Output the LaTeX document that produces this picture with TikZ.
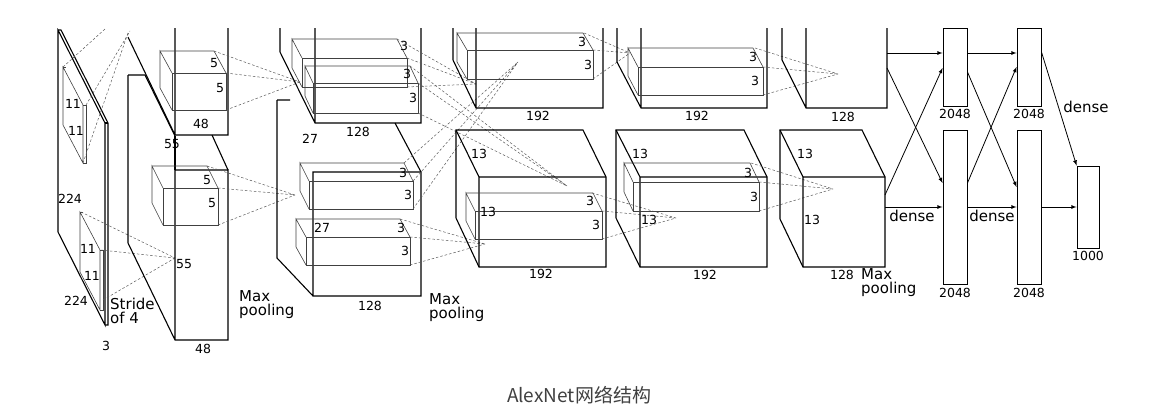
\documentclass[tikz,border=0pt]{standalone}
\usepackage{fontspec}
\setmainfont{DejaVu Sans}
\newfontfamily\cjk{Noto Sans CJK SC}
\begin{document}
\begin{tikzpicture}[x=1pt,y=-1pt,
  blk/.style={line width=1.1pt,black},
  kern/.style={line width=0.6pt,black!75},
  dsh/.style={dashed,dash pattern=on 2.5pt off 2pt,line width=0.5pt,black!65},
  num/.style={font=\fontsize{12.5}{14}\selectfont,inner sep=0pt},
  big/.style={font=\fontsize{15}{17}\selectfont,inner sep=0pt,align=left,anchor=north west},
  arr/.style={-latex,line width=0.8pt}]
\useasboundingbox (0,0) rectangle (1158,415);
\newcommand\kbox[6]{%
  \draw[kern] (#1,#2) rectangle (#3,#4);
  \draw[kern] ({#1-#5},{#2-#6}) -- ({#3-#5},{#2-#6}) -- (#3,#2);
  \draw[kern] (#1,#2) -- ({#1-#5},{#2-#6}) -- ({#1-#5},{#4-#6}) -- (#1,#4);}
% input
\draw[blk] (58,30) -- (105,123) -- (105,325) -- (58,232) -- cycle;
\draw[blk] (58,30) -- (61,30) -- (108,123) -- (108,325) -- (105,325);
\draw[blk] (105,123) -- (108,123);
\draw[kern] (63,67) -- (83,105) -- (83,163) -- (63,125) -- cycle;
\draw[kern] (63,67)--(66,67) (83,105)--(86,105)--(86,163)--(83,163);
\draw[kern] (80,212) -- (100,250) -- (100,310) -- (80,272) -- cycle;
\draw[kern] (80,212)--(83,212) (100,250)--(103,250)--(103,310)--(100,310);
\node[num] (i11a) at (73,104) {11};
\node[num] (i11b) at (76,131) {11};
\node[num] (i224a) at (70,199) {224};
\node[num] (i11c) at (88,249) {11};
\node[num] (i11d) at (92,276) {11};
\node[num] (i224b) at (76,301) {224};
\node[num] (i3) at (106,346) {3};
\node[big] (stride) at (110,298) {Stride\\[-3pt]of 4};
\draw[dsh] (63,67) -- (105,29) (86,105) -- (130,31) (83,163) -- (128,33);
\draw[dsh] (81,212) -- (175,258) (101,250) -- (175,258) (103,300) -- (175,258);
% layer 1
\draw[blk] (128,37) -- (175,135) (175,28) -- (175,135) -- (228,135) -- (228,28);
\draw[blk] (128,75) -- (145,75) -- (175,136);
\draw[blk] (212,135) -- (228,170);
\draw[blk] (128,75) -- (128,243) -- (175,340) -- (228,340) -- (228,170) -- (175,170) -- (175,340);
\draw[blk] (175,170)--(175,136);
\kbox{172}{73}{226}{110}{12}{22}
\kbox{163}{188}{218}{225}{11}{22}
\node[num] (a5a) at (214,63) {5};
\node[num] (a5b) at (220,88) {5};
\node[num] (a5c) at (207,180) {5};
\node[num] (a5d) at (212,203) {5};
\node[num] (a48a) at (201,124) {48};
\node[num] (a48b) at (203,349) {48};
\node[num] (a55a) at (172,144) {55};
\node[num] (a55b) at (184,264) {55};
\draw[dsh] (214,51) -- (300,82) (226,73) -- (300,82) (226,110) -- (300,82);
\draw[dsh] (207,166) -- (295,195) (218,188) -- (295,195) (218,225) -- (295,195);
\node[big] (mp1) at (239,290) {Max\\[-3pt]pooling};
% layer 2
\draw[blk] (280,28) -- (280,52) -- (315,123) -- (421,123) -- (421,28) (315,28) -- (315,123);
\draw[blk] (277,100) -- (290,100) (395,123) -- (421,172);
\draw[blk] (277,100) -- (277,258) -- (313,296) -- (421,296) -- (421,172) -- (313,172) -- (313,296);
\kbox{302}{58}{407}{87}{10}{19}
\kbox{313}{83}{418}{113}{8}{17}
\kbox{309}{181}{413}{209}{9}{18}
\kbox{306}{237}{410}{265}{10}{18}
\node[num] (b3a) at (404,46) {3};
\node[num] (b3b) at (407,74) {3};
\node[num] (b3c) at (413,98) {3};
\node[num] (b3d) at (403,173) {3};
\node[num] (b3e) at (408,195) {3};
\node[num] (b3f) at (401,228) {3};
\node[num] (b3g) at (405,251) {3};
\node[num] (b27a) at (310,139) {27};
\node[num] (b27b) at (322,228) {27};
\node[num] (b128a) at (358,132) {128};
\node[num] (b128b) at (370,306) {128};
\node[big] (mp2) at (429,293) {Max\\[-3pt]pooling};
\draw[dsh] (397,39) -- (476,84) (407,58) -- (476,84) (407,87) -- (476,84);
\draw[dsh] (410,66) -- (567,186) (418,83) -- (567,186) (418,113) -- (567,186);
\draw[dsh] (404,163) -- (518,62) (413,181) -- (518,62) (413,209) -- (518,62);
\draw[dsh] (400,219) -- (485,244) (410,237) -- (485,244) (410,265) -- (485,244);
% layer 3
\draw[blk] (453,28) -- (453,60) -- (476,108) -- (603,108) -- (603,28) (476,28) -- (476,108);
\kbox{467}{50}{593}{79}{10}{17}
\draw[blk] (456,130) -- (583,130) -- (606,177) -- (606,267) -- (479,267) -- (456,218) -- cycle;
\draw[blk] (456,130) -- (479,177) -- (606,177) (479,177) -- (479,267);
\kbox{475}{211}{602}{239}{9}{18}
\node[num] (c3a) at (582,42) {3};
\node[num] (c3b) at (588,65) {3};
\node[num] (c3c) at (590,201) {3};
\node[num] (c3d) at (596,225) {3};
\node[num] (c13a) at (479,154) {13};
\node[num] (c13b) at (488,212) {13};
\node[num] (c192a) at (538,116) {192};
\node[num] (c192b) at (541,274) {192};
\draw[dsh] (584,33) -- (630,53) (593,50) -- (630,53) (593,79) -- (630,53);
\draw[dsh] (592,193) -- (676,218) (602,211) -- (676,218) (602,239) -- (676,218);
% layer 4
\draw[blk] (617,28) -- (617,62) -- (641,108) -- (767,108) -- (767,28) (641,28) -- (641,108);
\kbox{638}{67}{763}{95}{10}{19}
\draw[blk] (616,130) -- (744,130) -- (767,177) -- (767,267) -- (640,267) -- (616,218) -- cycle;
\draw[blk] (616,130) -- (640,177) -- (767,177) (640,177) -- (640,267);
\kbox{633}{182}{759}{211}{9}{19}
\node[num] (d3a) at (753,57) {3};
\node[num] (d3b) at (755,81) {3};
\node[num] (d3c) at (748,173) {3};
\node[num] (d3d) at (754,197) {3};
\node[num] (d13a) at (640,154) {13};
\node[num] (d13b) at (649,220) {13};
\node[num] (d192a) at (697,116) {192};
\node[num] (d192b) at (705,275) {192};
\draw[dsh] (755,48) -- (838,74) (763,67) -- (838,74) (763,95) -- (838,74);
\draw[dsh] (751,163) -- (833,189) (759,182) -- (833,189) (759,211) -- (833,189);
% layer 5
\draw[blk] (782,28) -- (782,60) -- (806,108) -- (887,108) -- (887,28) (806,28) -- (806,108);
\draw[blk] (780,130) -- (862,130) -- (885,177) -- (885,267) -- (803,267) -- (780,219) -- cycle;
\draw[blk] (780,130) -- (803,177) -- (885,177) (803,177) -- (803,267);
\node[num] (e13a) at (805,154) {13};
\node[num] (e13b) at (812,220) {13};
\node[num] (e128a) at (843,117) {128};
\node[num] (e128b) at (842,275) {128};
\node[big] (mp3) at (861,268) {Max\\[-3pt]pooling};
% dense
\node[draw,line width=0.9pt,minimum width=24pt,minimum height=78pt,inner sep=0pt] (f6t) at (955,67) {};
\node[draw,line width=0.9pt,minimum width=24pt,minimum height=154pt,inner sep=0pt] (f6b) at (955,207) {};
\node[draw,line width=0.9pt,minimum width=24pt,minimum height=78pt,inner sep=0pt] (f7t) at (1029,67) {};
\node[draw,line width=0.9pt,minimum width=24pt,minimum height=154pt,inner sep=0pt] (f7b) at (1029,207) {};
\node[draw,line width=0.9pt,minimum width=22pt,minimum height=82pt,inner sep=0pt] (f8) at (1088,207) {};
\fill[white] (930,0) rectangle (1050,28);
\draw[white,line width=2pt] (0,27) -- (1158,27);
\node[num] (g1) at (955,114) {2048};
\node[num] (g2) at (955,293) {2048};
\node[num] (g3) at (1029,114) {2048};
\node[num] (g4) at (1029,293) {2048};
\node[num] (g5) at (1088,256) {1000};
\coordinate (p1) at (887,53); \coordinate (p2) at (887,68);
\coordinate (p3) at (885,195); \coordinate (p4) at (885,207);
\draw[arr] (p1) -- (f6t.west |- p1);
\draw[arr] (p2) -- (f6b.west |- 0,183);
\draw[arr] (p3) -- (f6t.west |- 0,68);
\draw[arr] (p4) -- (f6b.west |- p4);
\draw[arr] (f6t.east |- 0,53) -- (f7t.west |- 0,53);
\draw[arr] (f6t.east |- 0,72) -- (f7b.west |- 0,187);
\draw[arr] (f6b.east |- 0,183) -- (f7t.west |- 0,67);
\draw[arr] (f6b.east |- 0,207) -- (f7b.west |- 0,207);
\draw[arr] (f7t.east |- 0,52) -- (f8.north west);
\draw[arr] (f7b.east |- 0,207) -- (f8.west);
\node[big,anchor=center] (dn1) at (912,216) {dense};
\node[big,anchor=center] (dn2) at (992,216) {dense};
\node[big,anchor=center] (dn3) at (1086,107) {dense};
% caption
\node[font=\cjk\fontsize{19}{22}\selectfont,text=black!75] (cap) at (579,395) {AlexNet网络结构};
\end{tikzpicture}
\end{document}
